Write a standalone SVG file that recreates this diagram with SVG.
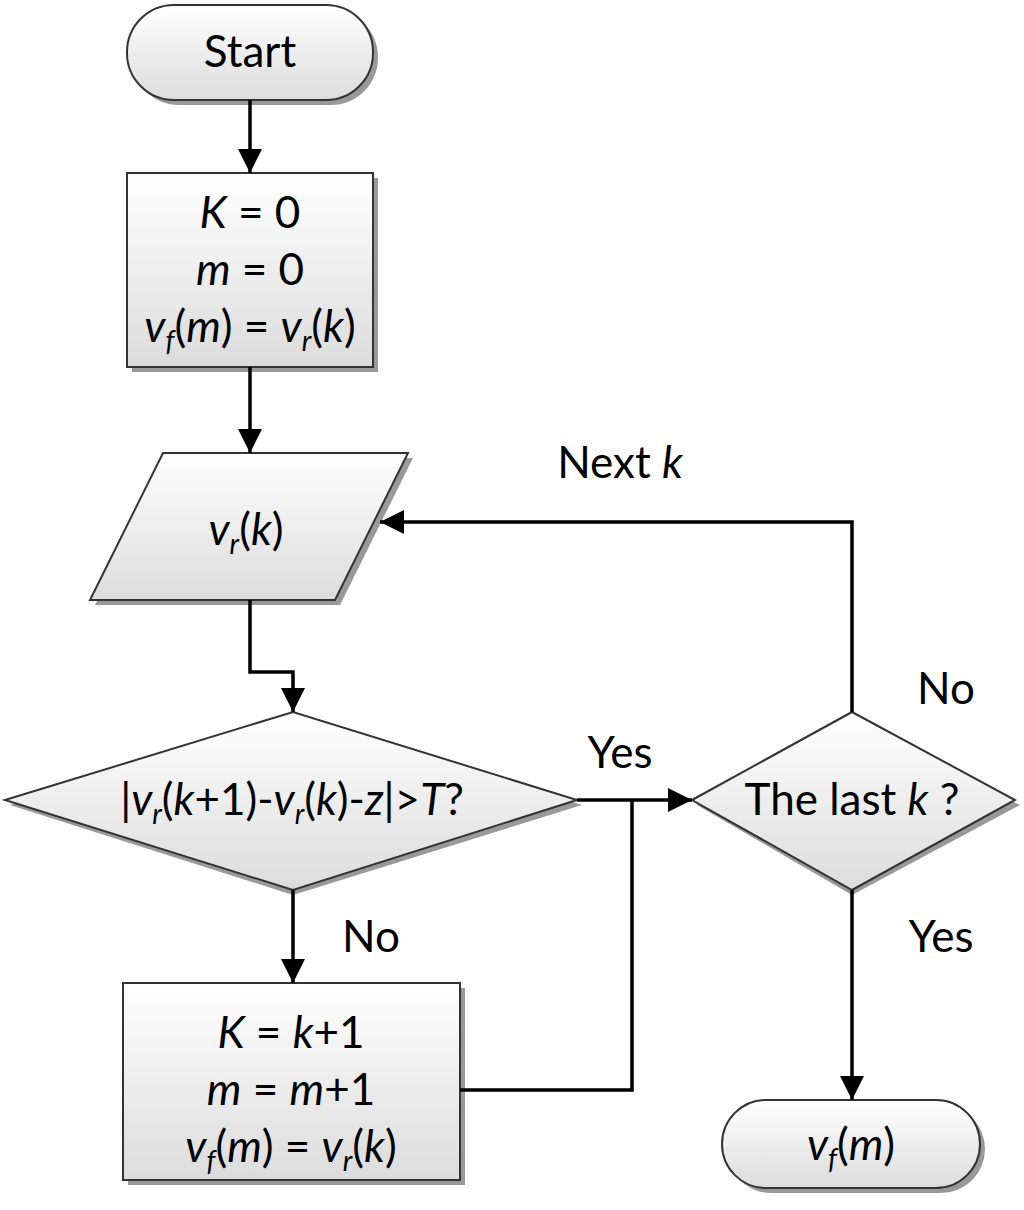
<svg xmlns="http://www.w3.org/2000/svg" width="1024" height="1210" viewBox="0 0 1024 1210">
<defs>
<linearGradient id="g" x1="0" y1="0" x2="0" y2="1"><stop offset="0" stop-color="#ffffff"/><stop offset="1" stop-color="#dcdcdc"/></linearGradient>
<marker id="ab" viewBox="0 0 10 10" refX="10" refY="5" markerWidth="24" markerHeight="24" orient="auto" markerUnits="userSpaceOnUse"><path d="M0,0 L10,5 L0,10 Z" fill="#000"/></marker>
</defs>
<style>
.s{fill:url(#g);stroke:#333;stroke-width:2}
.sh{fill:#999}
text{font-family:Lato,"Open Sans","Liberation Sans",sans-serif;font-size:44px;fill:#000;text-anchor:middle}
.i{font-style:italic}
.sub{font-size:28px}
.l{fill:none;stroke:#000;stroke-width:3.5}
</style>
<rect width="1024" height="1210" fill="#fff"/>
<g id="start"><rect x="132" y="10" width="246" height="95" rx="47" class="sh"/><rect x="127" y="5" width="246" height="95" rx="47" class="s"/><text x="250" y="67">Start</text></g>
<g id="init"><rect x="132" y="178" width="246" height="194" class="sh"/><rect x="127" y="173" width="246" height="194" class="s"/>
<text x="250" y="228"><tspan class="i">K</tspan> = 0</text>
<text x="250" y="285"><tspan class="i">m</tspan> = 0</text>
<text x="250" y="342"><tspan class="i">v<tspan class="sub" dy="9">f</tspan></tspan><tspan dy="-9">(</tspan><tspan class="i">m</tspan>) = <tspan class="i">v<tspan class="sub" dy="9">r</tspan></tspan><tspan dy="-9">(</tspan><tspan class="i">k</tspan>)</text></g>
<g id="input"><polygon points="168,458 413,458 340,605 95,605" class="sh"/><polygon points="163,453 408,453 335,600 90,600" class="s"/>
<text x="246" y="545"><tspan class="i">v<tspan class="sub" dy="9">r</tspan></tspan><tspan dy="-9">(</tspan><tspan class="i">k</tspan>)</text></g>
<g id="cond1"><polygon points="10,805 293,717 582,805 293,895" class="sh"/><polygon points="5,800 293,712 577,800 293,890" class="s"/>
<text x="292" y="815"><tspan>|</tspan><tspan class="i">v<tspan class="sub" dy="9">r</tspan></tspan><tspan dy="-9">(</tspan><tspan class="i">k</tspan>+1)-<tspan class="i">v<tspan class="sub" dy="9">r</tspan></tspan><tspan dy="-9">(</tspan><tspan class="i">k</tspan>)-<tspan class="i">z</tspan>|&gt;<tspan class="i">T</tspan>?</text></g>
<g id="cond2"><polygon points="697,805 852,717 1020,805 852,895" class="sh"/><polygon points="692,800 852,712 1015,800 852,890" class="s"/>
<text x="852" y="815">The last <tspan class="i">k</tspan> ?</text></g>
<g id="update"><rect x="128" y="988" width="337" height="197" class="sh"/><rect x="123" y="983" width="337" height="197" class="s"/>
<text x="291" y="1048"><tspan class="i">K</tspan> = <tspan class="i">k</tspan>+1</text>
<text x="291" y="1105"><tspan class="i">m</tspan> = <tspan class="i">m</tspan>+1</text>
<text x="291" y="1162"><tspan class="i">v<tspan class="sub" dy="9">f</tspan></tspan><tspan dy="-9">(</tspan><tspan class="i">m</tspan>) = <tspan class="i">v<tspan class="sub" dy="9">r</tspan></tspan><tspan dy="-9">(</tspan><tspan class="i">k</tspan>)</text></g>
<g id="end"><rect x="727" y="1105" width="258" height="88" rx="44" class="sh"/><rect x="722" y="1100" width="258" height="88" rx="44" class="s"/>
<text x="851" y="1160"><tspan class="i">v<tspan class="sub" dy="9">f</tspan></tspan><tspan dy="-9">(</tspan><tspan class="i">m</tspan>)</text></g>
<g id="connectors">
<path class="l" d="M250,100 V173" marker-end="url(#ab)"/>
<path class="l" d="M250,367 V453" marker-end="url(#ab)"/>
<path class="l" d="M250,600 V672 H293 V712" marker-end="url(#ab)"/>
<path class="l" d="M577,800 H692" marker-end="url(#ab)"/>
<path class="l" d="M293,890 V983" marker-end="url(#ab)"/>
<path class="l" d="M460,1090 H632 V800"/>
<path class="l" d="M852,712 V522 H380" stroke-width="3" marker-end="url(#ab)"/>
<path class="l" d="M852,890 V1100" marker-end="url(#ab)"/>
</g>
<g id="labels">
<text x="620" y="768">Yes</text>
<text x="620" y="478">Next <tspan class="i">k</tspan></text>
<text x="946" y="704">No</text>
<text x="371" y="952">No</text>
<text x="941" y="952">Yes</text>
</g>
</svg>
